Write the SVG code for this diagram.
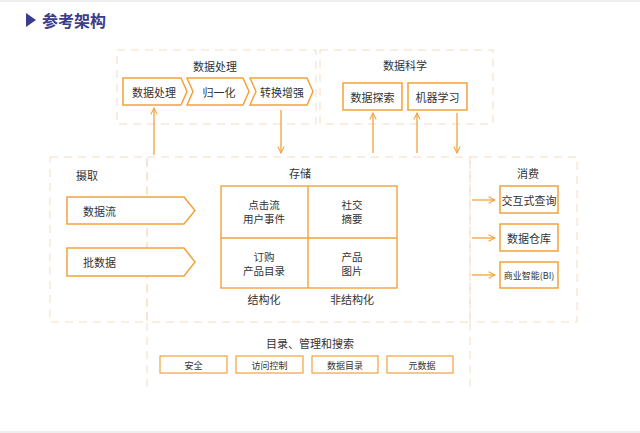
<svg xmlns="http://www.w3.org/2000/svg" width="640" height="433" viewBox="0 0 640 433">
<defs>
<style>
.t{font-family:"Noto Sans CJK SC","Liberation Sans",sans-serif;fill:#333;font-size:11px;text-anchor:middle;dominant-baseline:central}
.s{font-size:9px}
.m{font-size:10.5px}
.zone{fill:none;stroke:#f2dcc2;stroke-width:1;stroke-dasharray:8 6}
.box{fill:#fff;stroke:#f2a23c;stroke-width:1.5}
.grid{fill:none;stroke:#f2a23c;stroke-width:1.4}
.conn{stroke:#f2a23c;stroke-width:1.3;fill:none}
</style>
<marker id="ah" viewBox="0 0 10 10" refX="9" refY="5" markerWidth="8" markerHeight="8" orient="auto" markerUnits="userSpaceOnUse">
<path d="M1,1 L9,5 L1,9" fill="none" stroke="#f2a23c" stroke-width="1.3"/>
</marker>
</defs>
<rect width="640" height="433" fill="#fff"/>
<rect x="0" y="0" width="640" height="2" fill="#eeeeee"/>
<rect x="0" y="431" width="640" height="2" fill="#eeeeee"/>

<g id="header">
<polygon points="26,13 36,20 26,27" fill="#3a3d8c"/>
<text x="42" y="20" style="font-family:'Noto Sans CJK SC','Liberation Sans',sans-serif;font-size:16px;font-weight:bold;fill:#3a3d8c;dominant-baseline:central">参考架构</text>
</g>

<g id="zones">
<rect class="zone" x="117" y="50" width="199" height="74"/>
<rect class="zone" x="320" y="50" width="173" height="74"/>
<rect class="zone" x="50" y="157" width="97" height="165"/>
<rect class="zone" x="147" y="157" width="323" height="165"/>
<rect class="zone" x="470" y="157" width="107" height="165"/>
<path class="zone" d="M147,323 V390 M470,323 V390"/>
</g>

<g id="data-processing">
<text class="t" x="215" y="66">数据处理</text>
<polygon class="box" points="123,78 181,78 187,91.5 181,105 123,105"/>
<text class="t" x="154" y="92">数据处理</text>
<polygon class="box" points="187,78 243,78 249,91.5 243,105 187,105 193,91.5"/>
<text class="t" x="219" y="92">归一化</text>
<polygon class="box" points="250,78 307,78 313,91.5 307,105 250,105 256,91.5"/>
<text class="t" x="282" y="92">转换增强</text>
</g>

<g id="data-science">
<text class="t" x="405" y="65">数据科学</text>
<rect class="box" x="343" y="83" width="59" height="27"/>
<text class="t" x="372.5" y="97">数据探索</text>
<rect class="box" x="408" y="83" width="59" height="27"/>
<text class="t" x="437.5" y="97">机器学习</text>
</g>

<g id="ingestion">
<text class="t" x="76" y="175" style="text-anchor:start">摄取</text>
<polygon class="box" points="67,197 184,197 195,210.5 184,224 67,224"/>
<text class="t" x="83" y="211" style="text-anchor:start">数据流</text>
<polygon class="box" points="67,248 184,248 195,262 184,276 67,276"/>
<text class="t" x="83" y="262" style="text-anchor:start">批数据</text>
</g>

<g id="storage">
<text class="t" x="300" y="173">存储</text>
<rect class="grid" x="221" y="186" width="176" height="102"/>
<line class="grid" x1="308" y1="186" x2="308" y2="288"/>
<line class="grid" x1="221" y1="238" x2="397" y2="238"/>
<text class="t m" x="264" y="204">点击流</text>
<text class="t m" x="264" y="218">用户事件</text>
<text class="t m" x="352" y="204">社交</text>
<text class="t m" x="352" y="218">摘要</text>
<text class="t m" x="264" y="256">订购</text>
<text class="t m" x="264" y="270">产品目录</text>
<text class="t m" x="352" y="256">产品</text>
<text class="t m" x="352" y="270">图片</text>
<text class="t" x="264" y="299">结构化</text>
<text class="t" x="352" y="299">非结构化</text>
</g>

<g id="consumption">
<text class="t" x="528" y="173">消费</text>
<rect class="box" x="500" y="186" width="58" height="27"/>
<text class="t" x="529" y="200">交互式查询</text>
<rect class="box" x="500" y="224" width="58" height="27"/>
<text class="t" x="529" y="238">数据仓库</text>
<rect class="box" x="500" y="262" width="58" height="26"/>
<text class="t s" x="529" y="275">商业智能(BI)</text>
</g>

<g id="catalog">
<text class="t" x="310" y="343">目录、管理和搜索</text>
<rect class="box" x="160" y="356" width="67" height="17" style="stroke-width:1.2"/>
<text class="t s" x="193.5" y="365">安全</text>
<rect class="box" x="236" y="356" width="67" height="17" style="stroke-width:1.2"/>
<text class="t s" x="269.5" y="365">访问控制</text>
<rect class="box" x="312" y="356" width="66" height="17" style="stroke-width:1.2"/>
<text class="t s" x="345" y="365">数据目录</text>
<rect class="box" x="387" y="356" width="66" height="17" style="stroke-width:1.2"/>
<text class="t s" x="422" y="365">元数据</text>
</g>

<g id="connectors">
<line class="conn" x1="154" y1="155" x2="154" y2="108" marker-end="url(#ah)"/>
<line class="conn" x1="281" y1="110" x2="281" y2="153" marker-end="url(#ah)"/>
<line class="conn" x1="373" y1="153" x2="373" y2="113" marker-end="url(#ah)"/>
<line class="conn" x1="417" y1="153" x2="417" y2="113" marker-end="url(#ah)"/>
<line class="conn" x1="457" y1="113" x2="457" y2="153" marker-end="url(#ah)"/>
<line class="conn" x1="472" y1="200" x2="495" y2="200" marker-end="url(#ah)"/>
<line class="conn" x1="472" y1="238" x2="495" y2="238" marker-end="url(#ah)"/>
<line class="conn" x1="472" y1="275" x2="495" y2="275" marker-end="url(#ah)"/>
</g>
</svg>
